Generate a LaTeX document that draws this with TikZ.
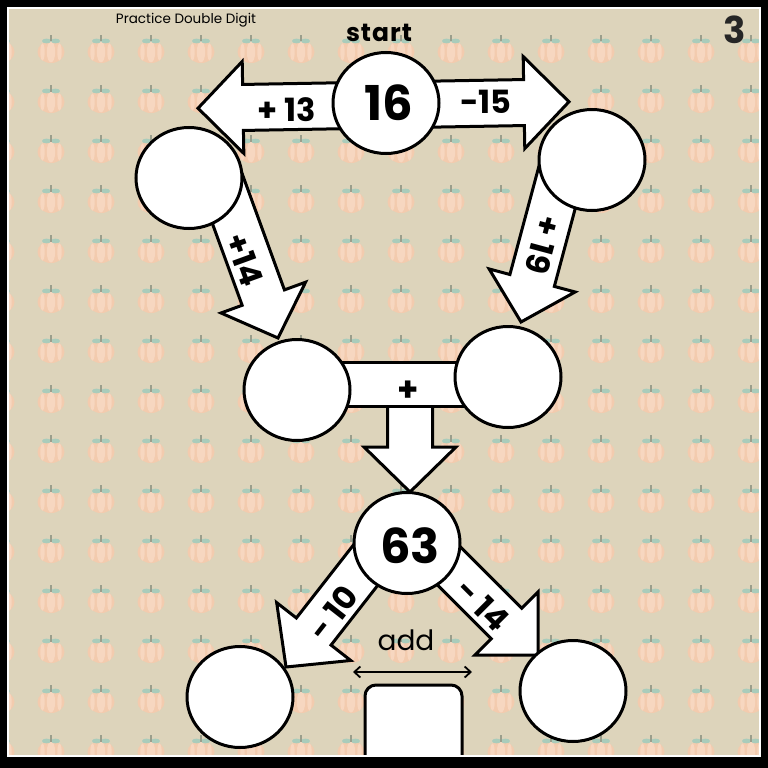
\documentclass[tikz,border=0pt]{standalone}
\usepackage{fontspec}
\setmainfont{Poppins}
\usetikzlibrary{shapes.geometric,arrows.meta}
\definecolor{bg}{HTML}{DDD4BB}
\definecolor{pk}{HTML}{F3CBAE}
\definecolor{pkl}{HTML}{F7D7C0}
\definecolor{stemc}{HTML}{A9CCBB}
\definecolor{stemd}{HTML}{9A9E8C}
\tikzset{
  circ/.style={ellipse, draw=black, line width=3pt, fill=white, minimum width=106pt, minimum height=101pt, inner sep=0pt},
  blk/.style={draw=black, line width=3pt, fill=white, line join=miter},
  num/.style={font=\bfseries\fontsize{32}{32}\selectfont, inner sep=0pt},
  big/.style={font=\bfseries\fontsize{48}{48}\selectfont, inner sep=0pt},
  pumpkin/.pic={
    \fill[pk] (0,1) ellipse (13.5 and 11);
    \fill[pkl] (0,1) ellipse (4.2 and 10.5);
    \fill[pkl] (-8.5,1) ellipse (2.2 and 8.5);
    \fill[pkl] (8.5,1) ellipse (2.2 and 8.5);
    \fill[stemc] (-4.5,-10) ellipse (4.5 and 2.4);
    \fill[stemc] (4.5,-10) ellipse (4.5 and 2.4);
    \fill[stemd] (-0.9,-16) rectangle (0.9,-9.5);
  }
}
\newcommand\barrow[7]{% tipx tipy angle length shafthalf headhalf headlen
  \begin{scope}[shift={(#1,#2)},rotate=#3]
    \draw[blk] (0,0) -- (-#7,#6) -- (-#7,#5) -- (-#4,#5) -- (-#4,-#5) -- (-#7,-#5) -- (-#7,-#6) -- cycle;
  \end{scope}}
\begin{document}
\begin{tikzpicture}[x=1pt,y=-1pt]
\useasboundingbox (0,0) rectangle (768,768);
\fill[bg] (0,0) rectangle (768,768);
\foreach \i in {0,...,15} \foreach \j in {1,...,15} { \pic at (50*\i+1, 50*\j+1) {pumpkin}; }

% top double arrow
\begin{scope}[shift={(383.5,105)},rotate=1]
  \draw[blk] (-185.5,0) -- (-140.5,-46) -- (-140.5,-23) -- (140.5,-23) -- (140.5,-46) -- (185.5,0)
     -- (140.5,46) -- (140.5,23) -- (-140.5,23) -- (-140.5,46) -- cycle;
\end{scope}
% diagonal arrows
\barrow{278}{338}{-70}{175}{22.5}{45}{43}
\barrow{521}{322}{-105}{175}{23}{44.5}{43}
% down arrow and bar
\barrow{410}{492}{-90}{92}{22.5}{46}{45}
\draw[blk] (300,362) rectangle (505,406);
% lower arrows
\barrow{286}{667}{-128}{150}{22}{47}{45}
\barrow{538}{655}{-45}{150}{21.5}{44.5}{44.5}

% circles
\node[circ] (c16) at (386,103) {};
\node[circ] (cL1) at (189,178) {};
\node[circ] (cR1) at (592,160) {};
\node[circ] (cL2) at (297,390) {};
\node[circ] (cR2) at (508,377) {};
\node[circ] (c63) at (407,543) {};
\node[circ] (cL3) at (240,697) {};
\node[circ] (cR3) at (573,691) {};

% numbers and labels
\node[big] (t16) at (389,103) {16};
\node[big] (t63) at (410,546) {63};
\node[num] (l13) at (287,110) {+ 13};
\node[num] (l15) at (486,102) {-15};
\node[num, rotate=-70] (l14) at (245,260) {+14};
\node[num, rotate=-105] (l19) at (543,245) {+ 19};
\node[inner sep=0pt, font=\bfseries\fontsize{34}{34}\selectfont] (lplus) at (408,391) {+};
\node[num, rotate=52] (l10) at (333,613) {- 10};
\node[num, rotate=-45] (lm14) at (483,605) {- 14};

% add
\node[inner sep=0pt, font=\fontsize{28}{28}\selectfont] (add) at (406,640) {add};
\coordinate (aL) at (353,672);
\coordinate (aR) at (472,672);
\draw[line width=1.8pt, {Straight Barb[length=6pt,width=11pt]}-{Straight Barb[length=6pt,width=11pt]}] (aL) -- (aR);
\draw[blk, rounded corners=11pt] (365,685) rectangle (462,780);

% frame
\fill[black, even odd rule] (0,0) rectangle (768,768) (7,7) rectangle (761,757);
\draw[white, line width=1.6pt] (7.8,7.8) rectangle (760.2,756.2);

% top texts
\node[inner sep=0pt, font=\fontsize{13.5}{13.5}\selectfont] (title) at (186,20) {Practice Double Digit};
\node[inner sep=0pt, font=\bfseries\fontsize{25}{25}\selectfont] (start) at (379,33) {s\kern1pt t\kern1pt a\kern1pt r\kern1pt t};
\node[inner sep=0pt, text=black!85, font=\bfseries\fontsize{37}{37}\selectfont] (three) at (735,30) {3};
\end{tikzpicture}
\end{document}
